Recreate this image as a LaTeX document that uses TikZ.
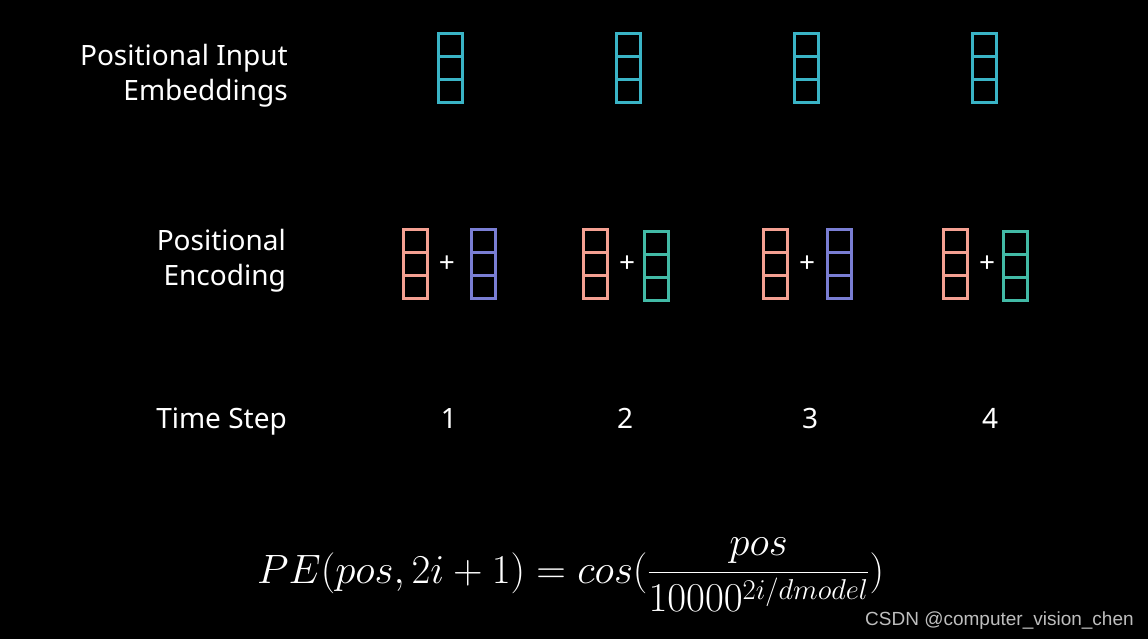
\RequirePackage{fix-cm}
\documentclass[tikz,border=0pt]{standalone}
\usepackage{amsmath}
\usepackage{fontspec}
\setsansfont{Noto Sans}
\newfontfamily\markfont{Liberation Sans}
\usepackage{tikz}
\usetikzlibrary{calc}
\definecolor{embcol}{RGB}{58,180,198}
\definecolor{sincol}{RGB}{244,160,146}
\definecolor{oddcol}{RGB}{122,126,212}
\definecolor{evencol}{RGB}{66,186,166}
\definecolor{markcol}{RGB}{190,190,190}
\tikzstyle{vec}=[draw, line width=3pt, inner sep=0pt, outer sep=0pt, minimum width=24pt, minimum height=69pt]
\tikzstyle{evec}=[vec, draw=embcol]
\tikzstyle{pvec}=[vec, draw=sincol]
\tikzstyle{ovec}=[vec, draw=oddcol]
\tikzstyle{gvec}=[vec, draw=evencol]
\tikzstyle{lbl}=[text=white, inner sep=0pt, align=right, font=\sffamily\fontsize{28}{35}\selectfont]
\tikzstyle{plus}=[text=white, inner sep=0pt, font=\sffamily\fontsize{28}{35}\selectfont]

\begin{document}
\begin{tikzpicture}[x=1pt, y=-1pt]
        \fill[black] (0,0) rectangle (1148,639);
        % row labels
        \node[lbl, anchor=east] (embtxt) at (288, 76) {Positional Input\\Embeddings};
        \node[lbl, anchor=east] (enctxt) at (286, 261) {Positional\\Encoding};
        \node[lbl, anchor=base east] (steptxt) at (287, 428) {Time Step};
        % input embeddings
        \node[evec] (e1) at (450.5, 68) {};
        \node[evec] (e2) at (628.5, 68) {};
        \node[evec] (e3) at (806.5, 68) {};
        \node[evec] (e4) at (984.5, 68) {};
        % positional encodings
        \node[pvec] (p1) at (415.5, 264) {};
        \node[plus] (s1) at (447, 264) {+};
        \node[ovec] (q1) at (483.5, 264) {};
        \node[pvec] (p2) at (595.5, 264) {};
        \node[plus] (s2) at (627, 264) {+};
        \node[gvec] (q2) at (656.5, 266) {};
        \node[pvec] (p3) at (775.5, 264) {};
        \node[plus] (s3) at (807, 264) {+};
        \node[ovec] (q3) at (839.5, 264) {};
        \node[pvec] (p4) at (955.5, 264) {};
        \node[plus] (s4) at (987, 264) {+};
        \node[gvec] (q4) at (1015.5, 266) {};
        % cell dividers
        \foreach \v/\c in {e1/embcol, e2/embcol, e3/embcol, e4/embcol, p1/sincol, p2/sincol, p3/sincol, p4/sincol,
                           q1/oddcol, q2/evencol, q3/oddcol, q4/evencol} {
            \draw[\c, line width=3pt] ($(\v.north west)!1/3!(\v.south west)$) -- ($(\v.north east)!1/3!(\v.south east)$);
            \draw[\c, line width=3pt] ($(\v.north west)!2/3!(\v.south west)$) -- ($(\v.north east)!2/3!(\v.south east)$);
        }
        % time steps
        \node[lbl, anchor=base] (t1) at (449, 428) {1};
        \node[lbl, anchor=base] (t2) at (625, 428) {2};
        \node[lbl, anchor=base] (t3) at (810, 428) {3};
        \node[lbl, anchor=base] (t4) at (990, 428) {4};
        % formula
        \node[text=white, inner sep=0pt, anchor=base west, font=\fontsize{41}{48}\selectfont] (pe) at (257, 583)
            {$\displaystyle PE(pos,2i+1) = cos(\frac{pos}{10000^{2i/dmodel}})$};
        \node[text=markcol, inner sep=0pt, anchor=base west, font=\markfont\fontsize{19}{22}\selectfont] (mark) at (865, 625)
            {CSDN @computer\_vision\_chen};
    \end{tikzpicture}
\end{document}
